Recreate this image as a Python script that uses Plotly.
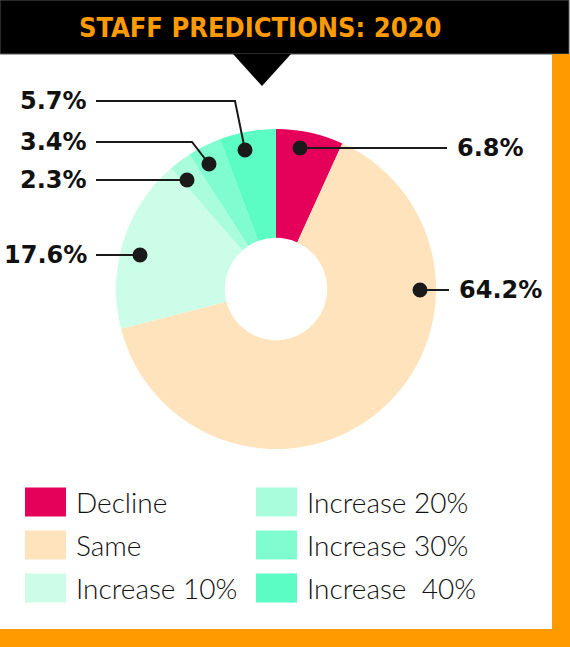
import plotly.graph_objects as go

# data
categories = ["Decline", "Same", "Increase 10%", "Increase 20%", "Increase 30%", "Increase  40%"]
shares = [6.8, 64.2, 17.6, 2.3, 3.4, 5.7]
colors = ["#E5005A", "#FFE3BC", "#CCFDE9", "#A9FDDD", "#80FDD0", "#5BFDC4"]
title = "STAFF PREDICTIONS: 2020"

W, H = 570, 647
ORANGE = "#FF9A00"


def px(x):
    return x / W


def py(y):
    return 1 - y / H


# pie centre (276, 289), radius 160 in pixels
cx, cy, r = 276, 289, 160

fig = go.Figure()
fig.add_trace(go.Pie(
    labels=categories,
    values=shares,
    sort=False,
    direction="clockwise",
    rotation=0,
    hole=0.32,
    marker=dict(colors=colors, line=dict(width=0)),
    textinfo="none",
    hoverinfo="label+percent",
    showlegend=False,
    domain=dict(x=[px(cx - r), px(cx + r)], y=[py(cy + r), py(cy - r)]),
))

shapes = []
annotations = []

# frame: black title bar, pointer, orange border
shapes.append(dict(type="rect", xref="paper", yref="paper",
                   x0=px(0), x1=px(569), y0=py(54), y1=py(0),
                   fillcolor="black", line=dict(color="#555", width=1)))
shapes.append(dict(type="path", xref="paper", yref="paper",
                   path=f"M {px(233)} {py(54)} L {px(291)} {py(54)} L {px(262)} {py(86)} Z",
                   fillcolor="black", line=dict(width=0)))
shapes.append(dict(type="rect", xref="paper", yref="paper",
                   x0=px(552), x1=px(570), y0=py(647), y1=py(54),
                   fillcolor=ORANGE, line=dict(width=0)))
shapes.append(dict(type="rect", xref="paper", yref="paper",
                   x0=px(0), x1=px(570), y0=py(647), y1=py(629),
                   fillcolor=ORANGE, line=dict(width=0)))

annotations.append(dict(xref="paper", yref="paper", x=px(260), y=py(28),
                        text="<b>" + title + "</b>",
                        showarrow=False, xanchor="center", yanchor="middle",
                        font=dict(family="DejaVu Sans Condensed", size=27, color=ORANGE)))

# callouts: label anchor side, leader path points (pixels), dot at the end
callouts = {
    "Decline": ("left", [(300, 148), (447, 148)]),
    "Same": ("left", [(420, 290), (449, 290)]),
    "Increase 10%": ("right", [(140, 255), (96, 255)]),
    "Increase 20%": ("right", [(187, 180), (96, 180)]),
    "Increase 30%": ("right", [(209, 164), (192, 142), (96, 142)]),
    "Increase  40%": ("right", [(245, 150), (235, 101), (96, 101)]),
}

for cat, val in zip(categories, shares):
    side, pts = callouts[cat]
    path = "M " + " L ".join(f"{px(x)} {py(y)}" for x, y in pts)
    shapes.append(dict(type="path", xref="paper", yref="paper", path=path,
                       line=dict(color="#1a1a1a", width=2)))
    dx, dy = pts[0]
    shapes.append(dict(type="circle", xref="paper", yref="paper",
                       x0=px(dx - 7.5), x1=px(dx + 7.5), y0=py(dy + 7.5), y1=py(dy - 7.5),
                       fillcolor="#1a1a1a", line=dict(width=0)))
    ex, ey = pts[-1]
    annotations.append(dict(
        xref="paper", yref="paper",
        x=px(ex + 8) if side == "left" else px(ex - 7), y=py(ey),
        text=f"<b>{val:.1f}%</b>", showarrow=False,
        xanchor=side, yanchor="middle",
        font=dict(family="DejaVu Sans", size=24, color="#111"),
    ))

# legend drawn by hand, two columns
col_x = [25, 256]
row_y = [502, 545, 588]
for i, (cat, col) in enumerate(zip(categories, colors)):
    x0 = col_x[i // 3]
    yc = row_y[i % 3]
    shapes.append(dict(type="rect", xref="paper", yref="paper",
                       x0=px(x0), x1=px(x0 + 41), y0=py(yc + 14.5), y1=py(yc - 14.5),
                       fillcolor=col, line=dict(width=0)))
    annotations.append(dict(xref="paper", yref="paper", x=px(x0 + 49), y=py(yc),
                            text=cat.replace("  ", "&nbsp; "), showarrow=False,
                            xanchor="left", yanchor="middle",
                            font=dict(family="Lato", size=28, weight=300, color="#111")))

fig.update_layout(
    width=W, height=H,
    margin=dict(l=0, r=0, t=0, b=0),
    paper_bgcolor="white",
    plot_bgcolor="white",
    shapes=shapes,
    annotations=annotations,
)

# drop the default page margin so the figure sits at the window corner
fig.write_html("out.html", config={"displayModeBar": False},
               post_script="document.body.style.margin='0';")
